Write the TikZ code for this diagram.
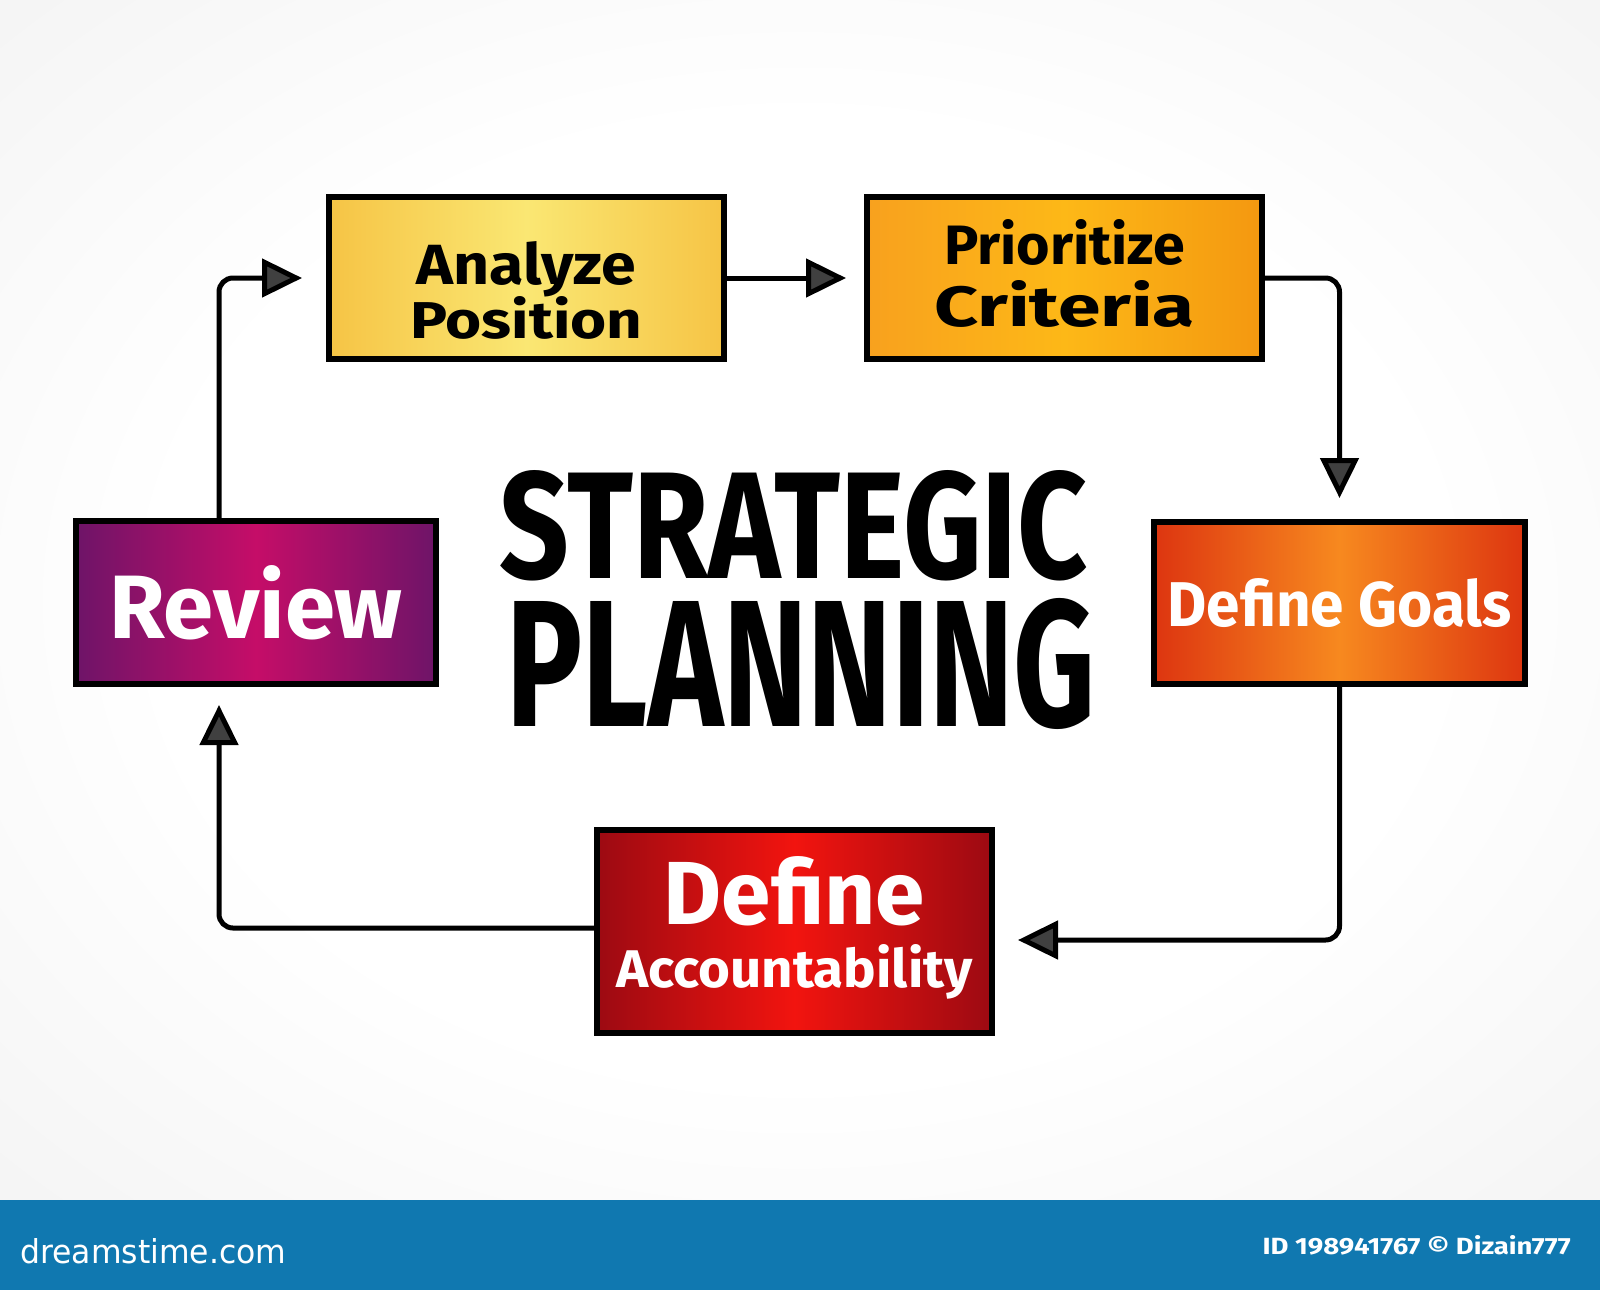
\documentclass[tikz,border=0pt]{standalone}
\usepackage{fontspec}
\usepackage{graphicx}
\usetikzlibrary{arrows.meta}
\newfontfamily\hand{Fira Sans}
\newfontfamily\logofont{DejaVu Sans}
\definecolor{barblue}{HTML}{1078B0}
\definecolor{anaEdge}{HTML}{F6C445}
\definecolor{anaMid}{HTML}{FAE773}
\definecolor{priEdgeL}{HTML}{F8A11E}
\definecolor{priMid}{HTML}{FDB817}
\definecolor{priEdgeR}{HTML}{F49810}
\definecolor{golEdge}{HTML}{DD3510}
\definecolor{golMid}{HTML}{F7891F}
\definecolor{accEdge}{HTML}{9C0A12}
\definecolor{accMid}{HTML}{F2140F}
\definecolor{revEdge}{HTML}{6E1468}
\definecolor{revMid}{HTML}{C50D68}
\pgfdeclareradialshading{bgshade}{\pgfpoint{0bp}{0bp}}{color(0bp)=(white); color(20bp)=(white); color(50bp)=(black!8); color(75bp)=(black!11)}
\newcommand\fitbox[3]{\resizebox{#1}{#2}{#3}}
\newcommand\twol[5]{\vbox{\vskip#1\relax\baselineskip=#2\relax\lineskiplimit=-\maxdimen\lineskip=0pt\relax\hbox to #3{\hss#4\hss}\hbox to #3{\hss#5\hss}}}
\begin{document}
\begin{tikzpicture}[x=0.5pt,y=-0.5pt,
  box/.style={draw=black, line width=3pt, rectangle, inner sep=0pt},
  grad/.style n args={3}{left color=#1, right color=#3, middle color=#2},
  conn/.style={draw=black, line width=2.5pt, rounded corners=7pt, line join=round,
    -{Triangle[length=20pt,width=19pt,fill=black!75]}},
]
\useasboundingbox (0,0) rectangle (1600,1290);
% background
\shade[shading=bgshade] (0,0) rectangle (1600,1200);
\fill[barblue] (0,1200) rectangle (1600,1290);

% boxes
\node[box, grad={anaEdge}{anaMid}{anaEdge}, minimum width=197.5pt, minimum height=81pt] (analyze) at (526.5,278)
  {\twol{12.5pt}{27pt}{190pt}{\fitbox{110pt}{21.5pt}{\hand\bfseries Analyze}}{\fitbox{116pt}{21pt}{\hand\bfseries Position}}};
\node[box, grad={priEdgeL}{priMid}{priEdgeR}, minimum width=197.5pt, minimum height=81pt] (prior) at (1064.5,278)
  {\twol{-4.5pt}{31pt}{190pt}{\fitbox{120.5pt}{22.5pt}{\hand\bfseries Prioritize}}{\fitbox{130.5pt}{23pt}{\hand\bfseries Criteria}}};
\node[box, grad={golEdge}{golMid}{golEdge}, text=white, minimum width=185.5pt, minimum height=81pt] (goals) at (1339.5,603)
  {\fitbox{172pt}{24pt}{\hand\bfseries Define Goals}};
\node[box, grad={accEdge}{accMid}{accEdge}, text=white, minimum width=197.5pt, minimum height=101.5pt] (acc) at (794.5,931.5)
  {\twol{-3.5pt}{31.5pt}{190pt}{\fitbox{130.5pt}{34pt}{\hand\bfseries Define}}{\fitbox{178pt}{21.5pt}{\hand\bfseries Accountability}}};
\node[box, grad={revEdge}{revMid}{revEdge}, text=white, minimum width=180pt, minimum height=81.5pt] (review) at (256,602.5)
  {\fitbox{146.5pt}{36.5pt}{\hand\bfseries Review}};

% title
\node[inner sep=0pt] (title) at (797.5,600)
  {\vbox{\baselineskip=74pt\relax\lineskiplimit=-\maxdimen\lineskip=0pt\relax
    \hbox to 320pt{\hss\fitbox{294pt}{54pt}{\hand\bfseries STRATEGIC}\hskip3.75pt\hss}
    \hbox to 320pt{\hss\hskip3.75pt\fitbox{294.5pt}{64pt}{\hand\bfseries PLANNING}\hss}}};

% connectors
\draw[conn] ([xshift=-18.5pt]review.north) |- ([xshift=-12pt]analyze.west);
\draw[conn, shorten >=9pt] (analyze.east) -- (prior.west);
\draw[conn] (prior.east) -| ([yshift=10.5pt]goals.north);
\draw[conn] (goals.south) |- ([xshift=11.5pt,yshift=-4.25pt]acc.east);
\draw[conn] ([yshift=1.75pt]acc.west) -| ([xshift=-18.5pt,yshift=-9pt]review.south);

% footer
\node[anchor=base west, inner sep=0pt, text=white] (site) at (20,1263)
  {\fitbox{133pt}{12.5pt}{\logofont dreamstime.com}};
\node[anchor=base east, inner sep=0pt, text=white] (credit) at (1571,1254)
  {\fitbox{154pt}{9.5pt}{\hand\bfseries ID 198941767 © Dizain777}};
\end{tikzpicture}
\end{document}
